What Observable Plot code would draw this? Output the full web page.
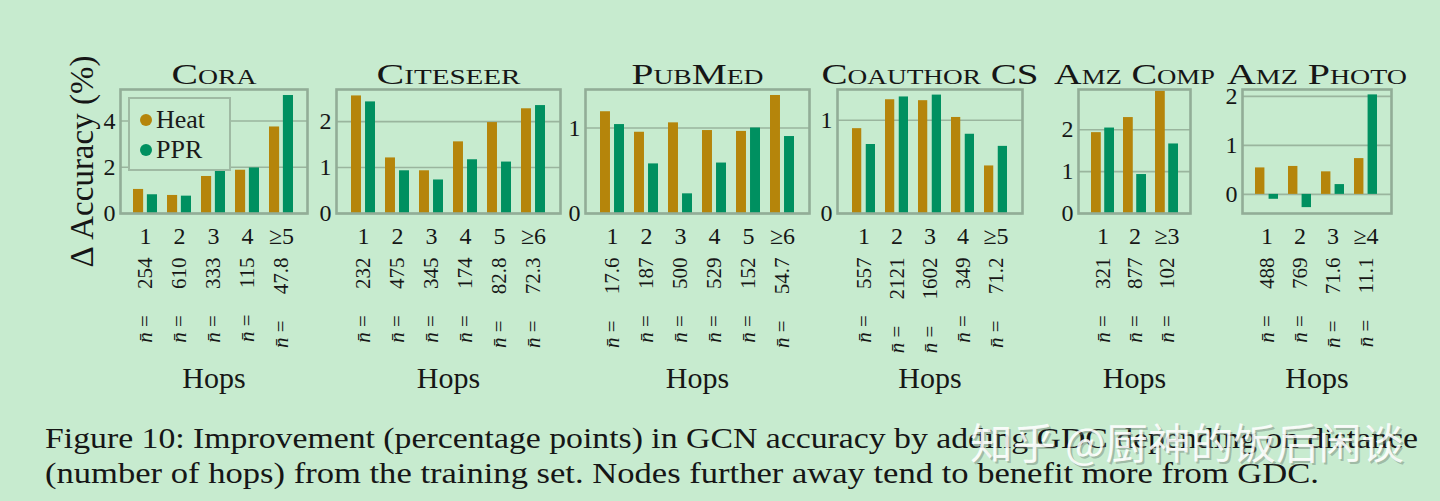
<!DOCTYPE html>
<html>
<head>
<meta charset="utf-8">
<script src="https://cdn.jsdelivr.net/npm/d3@7"></script>
<script src="https://cdn.jsdelivr.net/npm/@observablehq/plot@0.6"></script>
<style>
html, body { margin: 0; padding: 0; background: #c7ebcf; }
#fig { position: relative; width: 1440px; height: 501px; overflow: hidden; background: #c7ebcf;
       font-family: "Liberation Serif", "Times New Roman", serif; color: #1a1a1a; }
#fig svg { overflow: visible; }
.panel { position: absolute; top: 0; }
.legend { position: absolute; box-sizing: border-box; border: 2.5px solid #9fbaa3; background: #c7ebcf; }
.legend .row { position: absolute; left: 0; display: flex; align-items: center; font-size: 26px; line-height: 26px; }
.legend .dot { width: 12px; height: 12px; border-radius: 50%; margin-left: 10px; margin-right: 4px; }
</style>
</head>
<body>
<div id="fig"></div>
<script>
// ---------------- data ----------------
const methods = ["Heat", "PPR"];
const colors = ["#b5850b", "#009060"];

const datasetNames = ["Cora", "Citeseer", "PubMed", "Coauthor CS", "Amz Comp", "Amz Photo"];

const coraHops = ["1", "2", "3", "4", "≥5"];
const coraHeat = [1.04, 0.78, 1.60, 1.87, 3.74];
const coraPPR  = [0.81, 0.75, 1.84, 1.97, 5.10];
const coraN    = ["254", "610", "333", "115", "47.8"];
const coraTicks = [0, 2, 4];

const citeseerHops = ["1", "2", "3", "4", "5", "≥6"];
const citeseerHeat = [2.56, 1.21, 0.93, 1.56, 1.98, 2.28];
const citeseerPPR  = [2.43, 0.93, 0.73, 1.17, 1.12, 2.35];
const citeseerN    = ["232", "475", "345", "174", "82.8", "72.3"];
const citeseerTicks = [0, 1, 2];

const pubmedHops = ["1", "2", "3", "4", "5", "≥6"];
const pubmedHeat = [1.19, 0.95, 1.06, 0.97, 0.96, 1.38];
const pubmedPPR  = [1.04, 0.58, 0.23, 0.59, 1.00, 0.90];
const pubmedN    = ["17.6", "187", "500", "529", "152", "54.7"];
const pubmedTicks = [0, 1];

const coauthorHops = ["1", "2", "3", "4", "≥5"];
const coauthorHeat = [0.91, 1.22, 1.21, 1.03, 0.51];
const coauthorPPR  = [0.74, 1.25, 1.27, 0.85, 0.72];
const coauthorN    = ["557", "2121", "1602", "349", "71.2"];
const coauthorTicks = [0, 1];

const amzCompHops = ["1", "2", "≥3"];
const amzCompHeat = [1.93, 2.29, 2.92];
const amzCompPPR  = [2.04, 0.93, 1.66];
const amzCompN    = ["321", "877", "102"];
const amzCompTicks = [0, 1, 2];

const amzPhotoHops = ["1", "2", "3", "≥4"];
const amzPhotoHeat = [0.54, 0.57, 0.46, 0.73];
const amzPhotoPPR  = [-0.10, -0.27, 0.20, 2.03];
const amzPhotoN    = ["488", "769", "71.6", "11.1"];
const amzPhotoTicks = [0, 1, 2];

const yLabel = "Δ Accuracy (%)";
const xLabel = "Hops";
const nSymbol = "n̄";
const captionLines = [
  "Figure 10: Improvement (percentage points) in GCN accuracy by adding GDC depending on distance",
  "(number of hops) from the training set. Nodes further away tend to benefit more from GDC."
];
const watermark = "知乎 @厨神的饭后闲谈";

// ---------------- layout ----------------
const FONT = "'Liberation Serif', 'Times New Roman', serif";
const INK = "#161616";
const FRAME = "#92ad97";
const GRID = "#9ab59e";
const H = 400, TOP = 89, BOTTOM = 213, ML = 60, MR = 40;
const PI = 0.29, PO = 0.37, GAP = 3.4;
const EQ = " =\u2003\u2005";

const panels = [
  {name: datasetNames[0], hops: coraHops, heat: coraHeat, ppr: coraPPR, n: coraN, ticks: coraTicks, yDomain: [0, 5.36], left: 120, right: 307, titleW: 85, yTitle: true},
  {name: datasetNames[1], hops: citeseerHops, heat: citeseerHeat, ppr: citeseerPPR, n: citeseerN, ticks: citeseerTicks, yDomain: [0, 2.70], left: 336, right: 560, titleW: 144},
  {name: datasetNames[2], hops: pubmedHops, heat: pubmedHeat, ppr: pubmedPPR, n: pubmedN, ticks: pubmedTicks, yDomain: [0, 1.45], left: 585, right: 809, titleW: 132},
  {name: datasetNames[3], hops: coauthorHops, heat: coauthorHeat, ppr: coauthorPPR, n: coauthorN, ticks: coauthorTicks, yDomain: [0, 1.33], left: 837, right: 1022, titleW: 217},
  {name: datasetNames[4], hops: amzCompHops, heat: amzCompHeat, ppr: amzCompPPR, n: amzCompN, ticks: amzCompTicks, yDomain: [0, 2.96], left: 1078, right: 1190, titleW: 161},
  {name: datasetNames[5], hops: amzPhotoHops, heat: amzPhotoHeat, ppr: amzPhotoPPR, n: amzPhotoN, ticks: amzPhotoTicks, yDomain: [-0.39, 2.14], left: 1242, right: 1391, titleW: 180}
];

const fig = document.getElementById("fig");

for (const cfg of panels) {
  const rows = [];
  cfg.hops.forEach((h, i) => {
    rows.push({hop: h, method: methods[0], value: cfg.heat[i]});
    rows.push({hop: h, method: methods[1], value: cfg.ppr[i]});
  });
  const nLabels = cfg.hops.map((h, i) => ({hop: h, label: nSymbol + EQ + cfg.n[i]}));
  const W = cfg.right - cfg.left;
  const k = cfg.hops.length;
  const step = W / (k - PI + 2 * PO);
  const bw = step * (1 - PI);
  const inset = (bw + GAP) / 2;

  const marks = [
    Plot.gridY(cfg.ticks, {stroke: GRID, strokeOpacity: 1, strokeWidth: 1.6}),
    Plot.barY(rows.filter(d => d.method === methods[0]), {x: "hop", y: "value", fill: "method", insetRight: inset}),
    Plot.barY(rows.filter(d => d.method === methods[1]), {x: "hop", y: "value", fill: "method", insetLeft: inset}),
    Plot.frame({stroke: FRAME, strokeWidth: 2.6}),
    Plot.axisX({tickSize: 0, tickPadding: 13, fontSize: 24, label: null}),
    Plot.axisY(cfg.ticks, {tickSize: 0, tickPadding: 5, fontSize: 24, label: null, tickFormat: d => String(d)}),
    Plot.text(nLabels, {x: "hop", text: "label", frameAnchor: "bottom", rotate: -90, textAnchor: "end", lineAnchor: "middle", dy: 44, fontSize: 21}),
    Plot.text([cfg.name], {text: d => d, frameAnchor: "top", dy: -6, lineAnchor: "bottom", fontSize: 30, fontVariant: "small-caps"}),
    Plot.text([xLabel], {text: d => d, frameAnchor: "bottom", dy: 174, lineAnchor: "bottom", fontSize: 30})
  ];
  if (cfg.yTitle) {
    marks.push(Plot.text([yLabel], {text: d => d, frameAnchor: "left", rotate: -90, textAnchor: "middle", dx: -28, dy: 10, lineAnchor: "bottom", fontSize: 33}));
  }

  const plot = Plot.plot({
    width: W + ML + MR,
    height: H,
    marginLeft: ML, marginRight: MR, marginTop: TOP, marginBottom: H - BOTTOM,
    style: {background: "transparent", fontFamily: FONT, color: INK, overflow: "visible"},
    x: {domain: cfg.hops, paddingInner: PI, paddingOuter: PO},
    y: {domain: cfg.yDomain},
    color: {domain: methods, range: colors},
    marks
  });
  const svg = d3.select(plot);
  svg.selectAll("text")
    .filter(function () { return this.textContent === cfg.name; })
    .attr("textLength", cfg.titleW).attr("lengthAdjust", "spacingAndGlyphs");
  // italic n̄ as in the math label
  svg.selectAll("text")
    .filter(function () { return this.textContent.startsWith(nSymbol); })
    .each(function () {
      const rest = this.textContent.slice(nSymbol.length);
      const t = d3.select(this).text(null);
      t.append("tspan").attr("font-style", "italic").text(nSymbol);
      t.append("tspan").text(rest);
    });
  plot.classList.add("panel");
  plot.style.left = (cfg.left - ML) + "px";
  fig.appendChild(plot);
}

// legend inside the Cora panel
const legend = document.createElement("div");
legend.className = "legend";
Object.assign(legend.style, {left: "128px", top: "97px", width: "103px", height: "74px"});
methods.forEach((m, i) => {
  const row = document.createElement("div");
  row.className = "row";
  row.style.top = (8 + i * 30) + "px";
  const dot = document.createElement("span");
  dot.className = "dot";
  dot.style.background = colors[i];
  const label = document.createElement("span");
  label.textContent = m;
  row.appendChild(dot); row.appendChild(label);
  legend.appendChild(row);
});
fig.appendChild(legend);

// caption + watermark
const cap = d3.create("svg").attr("width", 1440).attr("height", 101)
  .style("position", "absolute").style("left", "0px").style("top", "400px");
const capW = [1373, 1274];
captionLines.forEach((t, i) => {
  cap.append("text").attr("x", 45).attr("y", 47.5 + i * 35.4)
    .attr("font-family", FONT).attr("font-size", 30).attr("fill", INK)
    .attr("textLength", capW[i]).attr("lengthAdjust", "spacingAndGlyphs")
    .text(t);
});
cap.append("text").attr("x", 972).attr("y", 61)
  .attr("font-family", "'Noto Sans CJK SC'").attr("font-size", 42)
  .attr("fill", "#6f7f72").attr("fill-opacity", 0.45)
  .attr("textLength", 434).attr("lengthAdjust", "spacingAndGlyphs")
  .text(watermark);
cap.append("text").attr("x", 970).attr("y", 59)
  .attr("font-family", "'Noto Sans CJK SC'").attr("font-size", 42)
  .attr("fill", "#ffffff").attr("fill-opacity", 0.88)
  .attr("textLength", 434).attr("lengthAdjust", "spacingAndGlyphs")
  .text(watermark);
fig.appendChild(cap.node());
</script>
</body>
</html>
